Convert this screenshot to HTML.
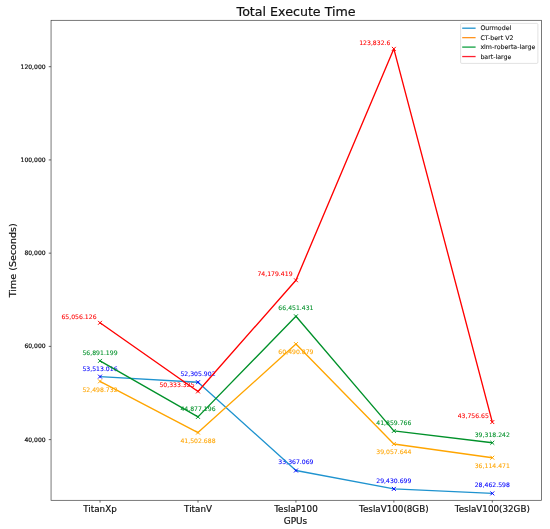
<!DOCTYPE html>
<html lang="en"><head><meta charset="utf-8"><title>Total Execute Time</title>
<style>
html,body{margin:0;padding:0;background:#fff;}
body{width:550px;height:529px;overflow:hidden;}
svg{display:block;filter:blur(0.35px);font-family:"DejaVu Sans","Liberation Sans",sans-serif;}
text{fill:#111111;stroke:#111111;stroke-width:0.2px;}
.ann{font-size:6.15px;stroke-width:0.08px;}
.ty{font-size:6.05px;text-anchor:end;stroke:#111111;stroke-width:0.2px;}
.tx{font-size:8.75px;text-anchor:middle;}
.leg{font-size:6.28px;stroke:#111111;stroke-width:0.1px;}
</style></head><body>
<svg width="550" height="529" viewBox="0 0 550 529">
<rect width="550" height="529" fill="#ffffff"/>
<text x="296.1" y="15.9" text-anchor="middle" font-size="12.65">Total Execute Time</text>
<text transform="translate(15.9,260.2) rotate(-90)" text-anchor="middle" font-size="9.55">Time (Seconds)</text>
<text x="295.5" y="523.95" text-anchor="middle" font-size="8.95">GPUs</text>
<text class="ann" x="100.00" y="370.51" text-anchor="middle" style="fill:#0000ff;stroke:#0000ff">53,513.016</text>
<text class="ann" x="198.00" y="376.14" text-anchor="middle" style="fill:#0000ff;stroke:#0000ff">52,305.902</text>
<text class="ann" x="295.95" y="464.42" text-anchor="middle" style="fill:#0000ff;stroke:#0000ff">33,367.069</text>
<text class="ann" x="393.85" y="482.77" text-anchor="middle" style="fill:#0000ff;stroke:#0000ff">29,430.699</text>
<text class="ann" x="492.30" y="487.28" text-anchor="middle" style="fill:#0000ff;stroke:#0000ff">28,462.598</text>
<text class="ann" x="100.00" y="391.64" text-anchor="middle" style="fill:#ffa500;stroke:#ffa500">52,498.732</text>
<text class="ann" x="198.00" y="442.90" text-anchor="middle" style="fill:#ffa500;stroke:#ffa500">41,502.688</text>
<text class="ann" x="295.95" y="354.39" text-anchor="middle" style="fill:#ffa500;stroke:#ffa500">60,490.879</text>
<text class="ann" x="393.85" y="454.29" text-anchor="middle" style="fill:#ffa500;stroke:#ffa500">39,057.644</text>
<text class="ann" x="492.30" y="468.01" text-anchor="middle" style="fill:#ffa500;stroke:#ffa500">36,114.471</text>
<text class="ann" x="100.00" y="354.77" text-anchor="middle" style="fill:#00912a;stroke:#00912a">56,891.199</text>
<text class="ann" x="198.00" y="410.77" text-anchor="middle" style="fill:#00912a;stroke:#00912a">44,877.196</text>
<text class="ann" x="295.95" y="310.20" text-anchor="middle" style="fill:#00912a;stroke:#00912a">66,451.431</text>
<text class="ann" x="393.85" y="424.83" text-anchor="middle" style="fill:#00912a;stroke:#00912a">41,859.766</text>
<text class="ann" x="492.30" y="436.68" text-anchor="middle" style="fill:#00912a;stroke:#00912a">39,318.242</text>
<text class="ann" x="96.60" y="318.81" text-anchor="end" style="fill:#ff0000;stroke:#ff0000">65,056.126</text>
<text class="ann" x="194.60" y="387.43" text-anchor="end" style="fill:#ff0000;stroke:#ff0000">50,333.325</text>
<text class="ann" x="292.55" y="276.28" text-anchor="end" style="fill:#ff0000;stroke:#ff0000">74,179.419</text>
<text class="ann" x="390.45" y="44.84" text-anchor="end" style="fill:#ff0000;stroke:#ff0000">123,832.6</text>
<text class="ann" x="488.90" y="418.09" text-anchor="end" style="fill:#ff0000;stroke:#ff0000">43,756.65</text>
<polyline points="100.00,376.61 198.00,382.24 295.95,470.52 393.85,488.87 492.30,493.38" fill="none" stroke="#1f93cf" stroke-width="1.35" stroke-linejoin="round" stroke-linecap="butt"/>
<polyline points="100.00,381.34 198.00,432.60 295.95,344.09 393.85,443.99 492.30,457.71" fill="none" stroke="#ffa500" stroke-width="1.35" stroke-linejoin="round" stroke-linecap="butt"/>
<polyline points="100.00,360.87 198.00,416.87 295.95,316.30 393.85,430.93 492.30,442.78" fill="none" stroke="#00912a" stroke-width="1.35" stroke-linejoin="round" stroke-linecap="butt"/>
<polyline points="100.00,322.81 198.00,391.43 295.95,280.28 393.85,48.84 492.30,422.09" fill="none" stroke="#ff0000" stroke-width="1.35" stroke-linejoin="round" stroke-linecap="butt"/>
<path d="M98.05,374.66L101.95,378.56M98.05,378.56L101.95,374.66M196.05,380.29L199.95,384.19M196.05,384.19L199.95,380.29M294.00,468.57L297.90,472.47M294.00,472.47L297.90,468.57M391.90,486.92L395.80,490.82M391.90,490.82L395.80,486.92M490.35,491.43L494.25,495.33M490.35,495.33L494.25,491.43" stroke="#0000ff" stroke-width="1.0" fill="none"/>
<path d="M98.05,379.39L101.95,383.29M98.05,383.29L101.95,379.39M196.05,430.65L199.95,434.55M196.05,434.55L199.95,430.65M294.00,342.14L297.90,346.04M294.00,346.04L297.90,342.14M391.90,442.04L395.80,445.94M391.90,445.94L395.80,442.04M490.35,455.76L494.25,459.66M490.35,459.66L494.25,455.76" stroke="#ffa500" stroke-width="1.0" fill="none"/>
<path d="M98.05,358.92L101.95,362.82M98.05,362.82L101.95,358.92M196.05,414.92L199.95,418.82M196.05,418.82L199.95,414.92M294.00,314.35L297.90,318.25M294.00,318.25L297.90,314.35M391.90,428.98L395.80,432.88M391.90,432.88L395.80,428.98M490.35,440.83L494.25,444.73M490.35,444.73L494.25,440.83" stroke="#00912a" stroke-width="1.0" fill="none"/>
<path d="M98.05,320.86L101.95,324.76M98.05,324.76L101.95,320.86M196.05,389.48L199.95,393.38M196.05,393.38L199.95,389.48M294.00,278.33L297.90,282.23M294.00,282.23L297.90,278.33M391.90,46.89L395.80,50.79M391.90,50.79L395.80,46.89M490.35,420.14L494.25,424.04M490.35,424.04L494.25,420.14" stroke="#ff0000" stroke-width="1.0" fill="none"/>
<rect x="51.05" y="20.3" width="490.34999999999997" height="480.0" fill="none" stroke="#404040" stroke-width="0.7"/>
<line x1="48.75" x2="51.05" y1="439.60" y2="439.60" stroke="#404040" stroke-width="0.8"/>
<text class="ty" x="45.6" y="441.60">40,000</text>
<line x1="48.75" x2="51.05" y1="346.38" y2="346.38" stroke="#404040" stroke-width="0.8"/>
<text class="ty" x="45.6" y="348.38">60,000</text>
<line x1="48.75" x2="51.05" y1="253.15" y2="253.15" stroke="#404040" stroke-width="0.8"/>
<text class="ty" x="45.6" y="255.15">80,000</text>
<line x1="48.75" x2="51.05" y1="159.93" y2="159.93" stroke="#404040" stroke-width="0.8"/>
<text class="ty" x="45.6" y="161.93">100,000</text>
<line x1="48.75" x2="51.05" y1="66.70" y2="66.70" stroke="#404040" stroke-width="0.8"/>
<text class="ty" x="45.6" y="68.70">120,000</text>
<line x1="100.00" x2="100.00" y1="500.3" y2="502.6" stroke="#404040" stroke-width="0.8"/>
<text class="tx" x="100.00" y="511.85">TitanXp</text>
<line x1="198.00" x2="198.00" y1="500.3" y2="502.6" stroke="#404040" stroke-width="0.8"/>
<text class="tx" x="198.00" y="511.85">TitanV</text>
<line x1="295.95" x2="295.95" y1="500.3" y2="502.6" stroke="#404040" stroke-width="0.8"/>
<text class="tx" x="295.95" y="511.85">TeslaP100</text>
<line x1="393.85" x2="393.85" y1="500.3" y2="502.6" stroke="#404040" stroke-width="0.8"/>
<text class="tx" x="393.85" y="511.85">TeslaV100(8GB)</text>
<line x1="492.30" x2="492.30" y1="500.3" y2="502.6" stroke="#404040" stroke-width="0.8"/>
<text class="tx" x="492.30" y="511.85">TeslaV100(32GB)</text>
<rect x="460.6" y="23.4" width="77.29999999999995" height="40.0" rx="1.2" ry="1.2" fill="#ffffff" fill-opacity="0.8" stroke="#cccccc" stroke-width="0.6"/>
<line x1="462.2" x2="475.6" y1="28.20" y2="28.20" stroke="#1f93cf" stroke-width="1.3"/>
<text class="leg" x="480.4" y="30.45">Ourmodel</text>
<line x1="462.2" x2="475.6" y1="37.65" y2="37.65" stroke="#ff9420" stroke-width="1.3"/>
<text class="leg" x="480.4" y="40.0">CT-bert V2</text>
<line x1="462.2" x2="475.6" y1="47.10" y2="47.10" stroke="#10a040" stroke-width="1.3"/>
<text class="leg" x="480.4" y="49.3">xlm-roberta-large</text>
<line x1="462.2" x2="475.6" y1="56.55" y2="56.55" stroke="#ff2030" stroke-width="1.3"/>
<text class="leg" x="480.4" y="58.6">bart-large</text>
</svg>
</body></html>
